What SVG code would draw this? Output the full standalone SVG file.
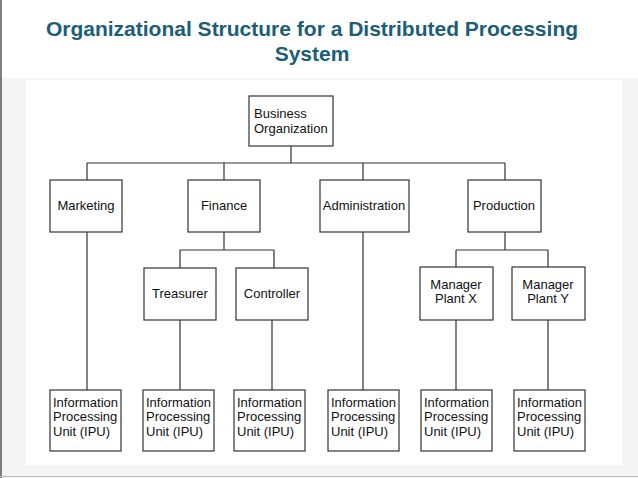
<svg xmlns="http://www.w3.org/2000/svg" width="638" height="478" viewBox="0 0 638 478">
<style>
.b{fill:#fff;stroke:#333;stroke-width:1.2}
.t{font-family:"Liberation Sans",Arial,sans-serif;font-size:13px;fill:#111}
.c{stroke:#333;stroke-width:1.2;fill:none}
.h{font-family:"Liberation Sans",Arial,sans-serif;font-size:21px;font-weight:bold;fill:#1b5e78;text-anchor:middle}
</style>
<rect x="0" y="0" width="638" height="478" fill="#f5f5f5"/>
<rect x="0" y="0" width="638" height="78" fill="#fff"/>
<rect x="26" y="80" width="596" height="385" fill="#fff"/>
<line x1="1" y1="0" x2="1" y2="478" stroke="#555" stroke-width="1.5"/>
<line x1="0" y1="476.5" x2="638" y2="476.5" stroke="#bbb"/>
<text class="h" x="312" y="36">Organizational Structure for a Distributed Processing</text>
<text class="h" x="312" y="61">System</text>
<g id="connectors" class="c">
<path d="M291 146V163M87 163H505M87 163V180M224 163V180M363 163V180M505 163V180"/>
<path d="M224 232V250M180 250H274M180 250V268M274 250V268"/>
<path d="M505 232V250M456 250H548M456 250V267M548 250V267"/>
<path d="M87 232V390M180 320V390M272 320V390M363 232V390M456 320V390M548 320V390"/>
</g>
<g id="business"><rect class="b" x="249" y="96" width="84" height="50"/><text class="t" x="254" y="118">Business</text><text class="t" x="254" y="133">Organization</text></g>
<g id="marketing"><rect class="b" x="50" y="180" width="72" height="52"/><text class="t" x="86" y="210" text-anchor="middle">Marketing</text></g>
<g id="finance"><rect class="b" x="188" y="180" width="72" height="52"/><text class="t" x="224" y="210" text-anchor="middle">Finance</text></g>
<g id="administration"><rect class="b" x="320" y="180" width="89" height="52"/><text class="t" x="364" y="210" text-anchor="middle">Administration</text></g>
<g id="production"><rect class="b" x="468" y="180" width="73" height="52"/><text class="t" x="504" y="210" text-anchor="middle">Production</text></g>
<g id="treasurer"><rect class="b" x="144" y="268" width="72" height="52"/><text class="t" x="180" y="298" text-anchor="middle">Treasurer</text></g>
<g id="controller"><rect class="b" x="236" y="268" width="72" height="52"/><text class="t" x="272" y="298" text-anchor="middle">Controller</text></g>
<g id="plantx"><rect class="b" x="420" y="267" width="73" height="53"/><text class="t" x="456" y="289" text-anchor="middle">Manager</text><text class="t" x="456" y="303" text-anchor="middle">Plant X</text></g>
<g id="planty"><rect class="b" x="512" y="267" width="73" height="53"/><text class="t" x="548" y="289" text-anchor="middle">Manager</text><text class="t" x="548" y="303" text-anchor="middle">Plant Y</text></g>
<g id="ipu1"><rect class="b" x="50" y="390" width="71" height="61"/><text class="t" x="53" y="407">Information</text><text class="t" x="53" y="421">Processing</text><text class="t" x="53" y="436">Unit (IPU)</text></g>
<g id="ipu2"><rect class="b" x="143" y="390" width="71" height="61"/><text class="t" x="146" y="407">Information</text><text class="t" x="146" y="421">Processing</text><text class="t" x="146" y="436">Unit (IPU)</text></g>
<g id="ipu3"><rect class="b" x="234" y="390" width="71" height="61"/><text class="t" x="237" y="407">Information</text><text class="t" x="237" y="421">Processing</text><text class="t" x="237" y="436">Unit (IPU)</text></g>
<g id="ipu4"><rect class="b" x="328" y="390" width="71" height="61"/><text class="t" x="331" y="407">Information</text><text class="t" x="331" y="421">Processing</text><text class="t" x="331" y="436">Unit (IPU)</text></g>
<g id="ipu5"><rect class="b" x="421" y="390" width="71" height="61"/><text class="t" x="424" y="407">Information</text><text class="t" x="424" y="421">Processing</text><text class="t" x="424" y="436">Unit (IPU)</text></g>
<g id="ipu6"><rect class="b" x="514" y="390" width="71" height="61"/><text class="t" x="517" y="407">Information</text><text class="t" x="517" y="421">Processing</text><text class="t" x="517" y="436">Unit (IPU)</text></g>
</svg>
